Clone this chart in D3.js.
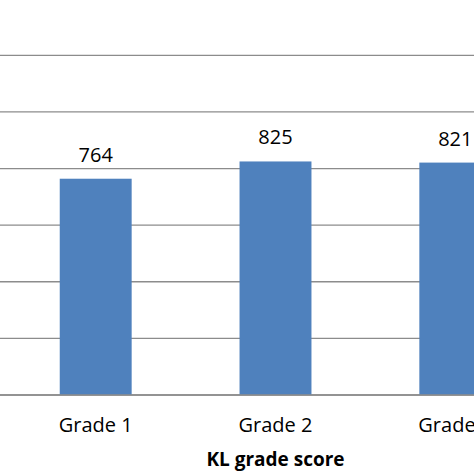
<!DOCTYPE html>
<html><head><meta charset="utf-8">
<script src="https://cdn.jsdelivr.net/npm/d3@7"></script>
<style>body{margin:0;background:#fff}svg{display:block}</style>
</head><body>
<svg id="c" width="474" height="474"></svg>
<script>
const categories = ["Grade 1", "Grade 2", "Grade 3"];
const values = [764, 825, 821];
const yTicks = [0, 200, 400, 600, 800, 1000, 1200];
const xTitle = "KL grade score";

const svg = d3.select("#c");
const font = "'Open Sans', sans-serif";

const x = d3.scaleBand().domain(categories).range([5.8, 545.2]).paddingInner(0.6).paddingOuter(0.3);
const y = d3.scaleLinear().domain([0, 1200]).range([395, 55.3]);

// gridlines
svg.append("g").selectAll("line").data(yTicks).join("line")
  .attr("x1", 0).attr("x2", 474)
  .attr("y1", d => y(d)).attr("y2", d => y(d))
  .attr("stroke", "#8c8c8c").attr("stroke-width", 1.3);

// bars
svg.append("g").selectAll("rect").data(values).join("rect")
  .attr("x", (d, i) => x(categories[i]))
  .attr("width", x.bandwidth())
  .attr("y", d => y(d))
  .attr("height", d => y(0) - y(d))
  .attr("fill", "#4f81bd");

// baseline redraw on top
svg.append("line").attr("x1", 0).attr("x2", 474).attr("y1", y(0)).attr("y2", y(0))
  .attr("stroke", "#8c8c8c").attr("stroke-width", 1.3);

// value labels
svg.append("g").selectAll("text").data(values).join("text")
  .attr("x", (d, i) => x(categories[i]) + x.bandwidth() / 2)
  .attr("y", d => y(d) - 17)
  .attr("text-anchor", "middle")
  .attr("font-family", font).attr("font-size", 20).attr("fill", "#000")
  .text(d => d);

// x axis
const xAxis = d3.axisBottom(x).tickSize(0).tickPadding(0);
const gx = svg.append("g").attr("transform", `translate(0,${y(0)})`).call(xAxis);
gx.select(".domain").remove();
gx.selectAll("text").attr("font-family", font).attr("font-size", 20).attr("fill", "#000")
  .attr("dy", null).attr("y", 36.5);

// axis title
svg.append("text").attr("x", 275.5).attr("y", 466)
  .attr("text-anchor", "middle").attr("font-family", font).attr("font-weight", "bold")
  .attr("font-size", 19).attr("fill", "#000").text(xTitle);
</script>
</body></html>
